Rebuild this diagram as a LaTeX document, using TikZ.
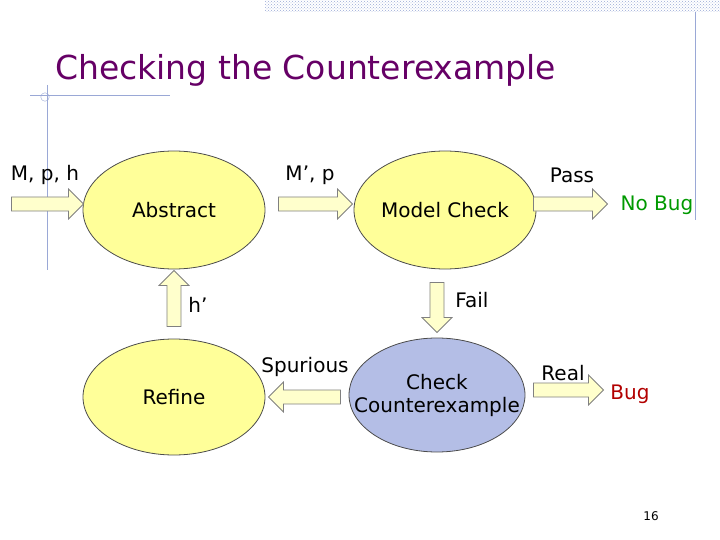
\documentclass[tikz,border=0pt]{standalone}
\usepackage{fontspec}
\setmainfont{DejaVu Sans}
\usetikzlibrary{shapes.arrows,shapes.geometric,patterns}
\definecolor{yel}{HTML}{FFFF99}
\definecolor{lav}{HTML}{B4BEE6}
\definecolor{arr}{HTML}{FFFFCC}
\definecolor{ttl}{HTML}{660066}
\definecolor{deco}{HTML}{9AA8D6}
\begin{document}
\begin{tikzpicture}[x=1pt,y=-1pt,
  ell/.style={ellipse,draw=black!70,line width=0.8pt,fill=yel,minimum width=182pt,minimum height=118pt,align=center,font=\fontsize{20}{23}\selectfont},
  blk/.style={single arrow,draw=black!50,fill=arr,line width=0.8pt,minimum height=72pt,minimum width=30pt,single arrow head extend=5pt,inner sep=4pt},
  lab/.style={font=\fontsize{20}{23}\selectfont}]
\useasboundingbox (0,0) rectangle (720,540);
\fill[pattern=crosshatch dots,pattern color=deco] (265,0) rectangle (720,12);
\draw[deco] (695,12) -- (695,220);
\draw[deco,line width=0.8pt] (47,85) -- (47,270);
\draw[deco,line width=0.8pt] (30,95) -- (170,95);
\node[draw=deco,circle,inner sep=3pt] (dot) at (45,97) {};
\node[font=\fontsize{33}{38}\selectfont,text=ttl,anchor=west,inner sep=0] (title) at (55,70) {Checking the Counterexample};
\node[ell] (abs) at (174,210) {Abstract};
\node[ell,inner xsep=-10pt] (mc) at (445,210) {Model Check};
\node[ell,minimum height=116pt] (ref) at (174,397) {Refine};
\node[ell,fill=lav,minimum width=176pt,minimum height=114pt,inner xsep=-25pt] (cce) at (437,395) {Check\\Counterexample};
\node[blk] (a1) at (44,204) {};
\node[blk,minimum height=74pt] (a2) at (312,204) {};
\node[blk,minimum height=74pt] (a3) at (567,204) {};
\node[blk,rotate=90,minimum height=56pt] (a4) at (174,302) {};
\node[blk,rotate=-90,minimum height=50pt] (a5) at (437,304) {};
\node[blk,rotate=180,minimum height=72pt] (a6) at (308,397) {};
\node[blk,minimum height=70pt] (a7) at (565,390) {};
\node[lab] (l1) at (45,175) {M, p, h};
\node[lab] (l2) at (310,175) {M’, p};
\node[lab] (l3) at (572,175) {Pass};
\node[lab,text=green!60!black] (l4) at (657,205) {No Bug};
\node[lab] (l5) at (198,305) {h’};
\node[lab] (l6) at (472,300) {Fail};
\node[lab] (l7) at (305,367) {Spurious};
\node[lab] (l8) at (563,373) {Real};
\node[lab,text=red!70!black] (l9) at (630,394) {Bug};
\node[font=\fontsize{12}{14}\selectfont] (pg) at (651,516) {16};
\end{tikzpicture}
\end{document}
